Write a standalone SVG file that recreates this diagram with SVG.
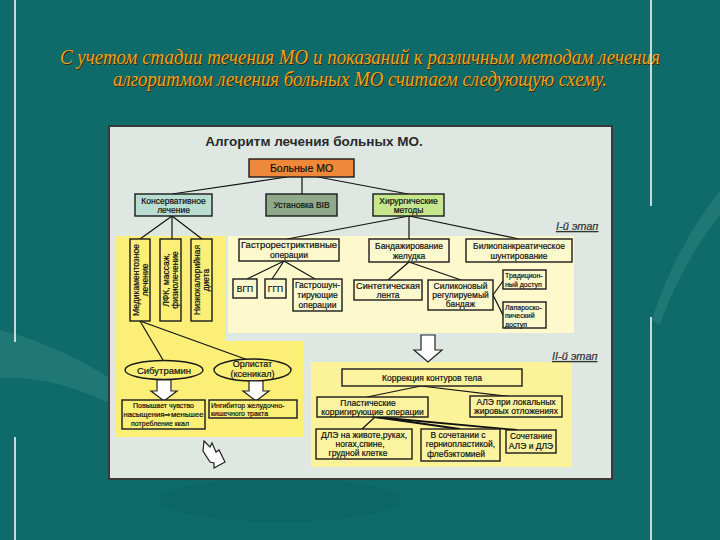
<svg xmlns="http://www.w3.org/2000/svg" width="720" height="540" viewBox="0 0 720 540">
<defs>
<style>
.bx{stroke:#1a1a1a;stroke-width:1.4}
.yb{fill:#fbf3a0}
.ly{fill:#fdf9cc}
.t{font-family:"Liberation Sans",Arial,sans-serif;font-size:8.5px;fill:#111;stroke:#111;stroke-width:0.2;text-anchor:middle}
.s{font-size:7px}
.st{font-family:"Liberation Sans",Arial,sans-serif;font-size:11px;font-style:italic;fill:#333;stroke:#333;stroke-width:0.2;text-decoration:underline}
.ttl{font-family:"Liberation Serif","Times New Roman",serif;font-style:italic;font-size:20px;text-anchor:middle}
.arr{fill:#fff;stroke:#222;stroke-width:1.2}
#connectors line{stroke:#111;stroke-width:1.2}
</style>
</defs>
<rect width="720" height="540" fill="#0e6b69"/>
<path d="M0,330 C60,345 120,380 170,420 L150,425 C100,395 50,375 0,378 Z" fill="#2f8682" opacity="0.5"/>
<path d="M720,190 C690,230 668,270 652,320 L660,325 C675,280 700,240 720,215 Z" fill="#2f8682" opacity="0.5"/>
<ellipse cx="280" cy="500" rx="120" ry="22" fill="#0a5e5c" opacity="0.3"/>
<g id="title">
<text class="ttl" x="361" y="65" fill="#3a2400" textLength="600" lengthAdjust="spacingAndGlyphs">С учетом стадии течения МО и показаний к различным методам лечения</text>
<text class="ttl" x="360" y="64" fill="#f2a31c" textLength="600" lengthAdjust="spacingAndGlyphs">С учетом стадии течения МО и показаний к различным методам лечения</text>
<text class="ttl" x="361" y="87" fill="#3a2400" textLength="494" lengthAdjust="spacingAndGlyphs">алгоритмом лечения больных МО считаем следующую схему.</text>
<text class="ttl" x="360" y="86" fill="#f2a31c" textLength="494" lengthAdjust="spacingAndGlyphs">алгоритмом лечения больных МО считаем следующую схему.</text>
</g>
<g id="frame-lines" stroke="#ffffff" stroke-width="1.5">
<line x1="15" y1="0" x2="15" y2="342"/>
<line x1="15" y1="437" x2="15" y2="540"/>
<line x1="651" y1="0" x2="651" y2="206"/>
<line x1="651" y1="317" x2="651" y2="540"/>
</g>
<g id="panel">
<rect x="109" y="126" width="503" height="353" fill="#dfe7e3" stroke="#3a3a3a" stroke-width="2"/>
<text x="314" y="146" font-family="Liberation Sans,Arial,sans-serif" font-size="13.5" font-weight="bold" fill="#2a2a2a" text-anchor="middle">Алгоритм лечения больных МО.</text>
<path d="M115,236 H225 V341 H303 V437 H115 Z" fill="#fbef78"/>
<rect x="228" y="236" width="346" height="97" class="ly"/>
<rect x="311" y="362" width="261" height="105" fill="#fbf29a"/>
<text class="st" x="556" y="230">I-й этап</text>
<text class="st" x="552" y="360">II-й этап</text>
</g>
<g id="connectors">
<line x1="287" y1="177" x2="172" y2="194"/>
<line x1="302" y1="177" x2="302" y2="194"/>
<line x1="318" y1="177" x2="408" y2="194"/>
<line x1="172" y1="216" x2="140" y2="239"/>
<line x1="172" y1="216" x2="172" y2="239"/>
<line x1="172" y1="216" x2="202" y2="239"/>
<line x1="409" y1="216" x2="287" y2="239"/>
<line x1="409" y1="216" x2="409" y2="239"/>
<line x1="409" y1="216" x2="519" y2="239"/>
<line x1="284" y1="261" x2="247" y2="279"/>
<line x1="284" y1="261" x2="272" y2="279"/>
<line x1="284" y1="261" x2="315" y2="279"/>
<line x1="409" y1="262" x2="388" y2="280"/>
<line x1="409" y1="262" x2="461" y2="280"/>
<line x1="493" y1="295" x2="503" y2="281"/>
<line x1="493" y1="295" x2="503" y2="315"/>
<line x1="140" y1="321" x2="163" y2="360"/>
<line x1="140" y1="321" x2="248" y2="360"/>
<line x1="421" y1="386" x2="367" y2="397"/>
<line x1="421" y1="386" x2="514" y2="397"/>
<line x1="375" y1="417" x2="362" y2="429"/>
<line x1="375" y1="417" x2="460" y2="429" style="stroke-width:1.8"/>
<line x1="375" y1="417" x2="517" y2="430" style="stroke-width:1.8"/>
</g>
<g id="n-bolnye"><rect x="249" y="159" width="105" height="18" fill="#f0883a" class="bx"/><text class="t" x="301.5" y="172" style="font-size:10.5px">Больные МО</text></g>
<g id="n-konserv"><rect x="135" y="194" width="77" height="22" fill="#b9ddd0" class="bx"/><text class="t" x="173.5" y="203.5">Консервативное</text><text class="t" x="173.5" y="213">лечение</text></g>
<g id="n-bib"><rect x="266" y="194" width="71" height="22" fill="#8fa98a" class="bx"/><text class="t" x="301.5" y="208">Установка BIB</text></g>
<g id="n-hirurg"><rect x="373" y="194" width="71" height="22" fill="#c6e68c" class="bx"/><text class="t" x="408.5" y="203.5">Хирургические</text><text class="t" x="408.5" y="213">методы</text></g>
<g id="n-med"><rect x="130" y="239" width="20" height="82" class="bx" style="fill:#fbef78"/><g transform="translate(140,280) rotate(-90)"><text class="t" x="0" y="-1.5">Медикаментозное</text><text class="t" x="0" y="7.5">лечение</text></g></g>
<g id="n-lfk"><rect x="160" y="239" width="21" height="82" class="bx" style="fill:#fbef78"/><g transform="translate(170.5,280) rotate(-90)"><text class="t" x="0" y="-1.5">ЛФК, массаж,</text><text class="t" x="0" y="7.5">физиолечение</text></g></g>
<g id="n-diet"><rect x="191" y="239" width="21" height="82" class="bx" style="fill:#fbef78"/><g transform="translate(201.5,280) rotate(-90)"><text class="t" x="0" y="-1.5">Низкокалорийная</text><text class="t" x="0" y="7.5">диета</text></g></g>
<g id="n-gastro"><rect x="239" y="239" width="100" height="22" class="bx ly"/><text class="t" x="289" y="248" textLength="96" lengthAdjust="spacingAndGlyphs">Гастрорестриктивные</text><text class="t" x="289" y="258">операции</text></g>
<g id="n-band"><rect x="369" y="239" width="80" height="23" class="bx ly"/><text class="t" x="409" y="249">Бандажирование</text><text class="t" x="409" y="259">желудка</text></g>
<g id="n-bilio"><rect x="466" y="239" width="106" height="23" class="bx ly"/><text class="t" x="519" y="249">Билиопанкреатическое</text><text class="t" x="519" y="259">шунтирование</text></g>
<g id="n-vgp"><rect x="233" y="279" width="24" height="19" class="bx ly"/><text class="t" x="245" y="292">ВГП</text></g>
<g id="n-ggp"><rect x="265" y="279" width="21" height="19" class="bx ly"/><text class="t" x="275.5" y="292">ГГП</text></g>
<g id="n-gshunt"><rect x="293" y="279" width="49" height="32" class="bx ly"/><text class="t" x="317.5" y="288">Гастрошун-</text><text class="t" x="317.5" y="298">тирующие</text><text class="t" x="317.5" y="308">операции</text></g>
<g id="n-sint"><rect x="354" y="280" width="68" height="20" class="bx ly"/><text class="t" x="388" y="289" textLength="64" lengthAdjust="spacingAndGlyphs">Синтетическая</text><text class="t" x="388" y="298">лента</text></g>
<g id="n-silik"><rect x="428" y="280" width="65" height="30" class="bx ly"/><text class="t" x="460.5" y="289">Силиконовый</text><text class="t" x="460.5" y="298">регулируемый</text><text class="t" x="460.5" y="307">бандаж</text></g>
<g id="n-trad"><rect x="503" y="270" width="43" height="19" class="bx ly"/><text class="t s" x="505" y="278" style="text-anchor:start">Традицион-</text><text class="t s" x="505" y="287" style="text-anchor:start">ный доступ</text></g>
<g id="n-lap"><rect x="503" y="302" width="43" height="26" class="bx ly"/><text class="t s" x="505" y="310" style="text-anchor:start">Лапароско-</text><text class="t s" x="505" y="318" style="text-anchor:start">пический</text><text class="t s" x="505" y="326.5" style="text-anchor:start">доступ</text></g>
<g id="n-sibut"><ellipse cx="164" cy="370" rx="39" ry="9.5" fill="#fbef78" class="bx"/><text class="t" x="164" y="373.5" style="font-size:9.5px">Сибутрамин</text></g>
<g id="n-orlist"><ellipse cx="252.5" cy="370" rx="38.5" ry="11" fill="#fbef78" class="bx"/><text class="t" x="252.5" y="367" style="font-size:9px">Орлистат</text><text class="t" x="252.5" y="377" style="font-size:9px">(ксеникал)</text></g>
<g id="arrows">
<path class="arr" d="M157,380 H171 V391 H177 L164,401 L151,391 H157 Z"/>
<path class="arr" d="M249,381 H263 V391 H269 L256,401 L243,391 H249 Z"/>
<path class="arr" d="M421,335 H435 V350 H442 L428,362 L414,350 H421 Z"/>
<path class="arr" d="M204,441 L210,447 L212,443 L216,452 L219,450 L225,462 L214,468 L214,463 L210,462 L203,451 Z"/>
</g>
<g id="n-povysh"><rect x="122" y="400" width="83" height="29" fill="#fbef78" class="bx"/><text class="t s" x="163.5" y="408">Повышает чувство</text><text class="t s" x="163.5" y="417" textLength="80" lengthAdjust="spacingAndGlyphs">насыщения⇒меньшее</text><text class="t s" x="160" y="426">потребление ккал</text></g>
<g id="n-ingib"><rect x="209" y="400" width="88" height="18" fill="#fbef78" class="bx"/><text class="t s" x="211" y="408" style="text-anchor:start">Ингибитор желудочно-</text><text class="t s" x="211" y="416" style="text-anchor:start">кишечного тракта</text></g>
<g id="n-korr"><rect x="342" y="369" width="180" height="17" class="bx yb"/><text class="t" x="432" y="381">Коррекция контуров тела</text></g>
<g id="n-plast"><rect x="317" y="397" width="111" height="20" class="bx yb"/><text class="t" x="368" y="405.5">Пластические</text><text class="t" x="372.5" y="414.5">корригирующие операции</text></g>
<g id="n-ale"><rect x="470" y="396" width="92" height="21" class="bx yb"/><text class="t" x="516" y="405">АЛЭ при локальных</text><text class="t" x="516" y="414">жировых отложениях</text></g>
<g id="n-dle"><rect x="316" y="429" width="96" height="30" class="bx yb"/><text class="t" x="364" y="438">ДЛЭ на животе,руках,</text><text class="t" x="360" y="447">ногах,спине,</text><text class="t" x="358" y="456">грудной клетке</text></g>
<g id="n-vsoch"><rect x="421" y="429" width="79" height="32" class="bx yb"/><text class="t" x="458" y="438">В сочетании с</text><text class="t" x="460.5" y="447">герниопластикой,</text><text class="t" x="456" y="457">флебэктомией</text></g>
<g id="n-soch"><rect x="506" y="430" width="50" height="23" class="bx yb"/><text class="t" x="531" y="439">Сочетание</text><text class="t" x="531" y="449">АЛЭ и ДЛЭ</text></g>
</svg>
